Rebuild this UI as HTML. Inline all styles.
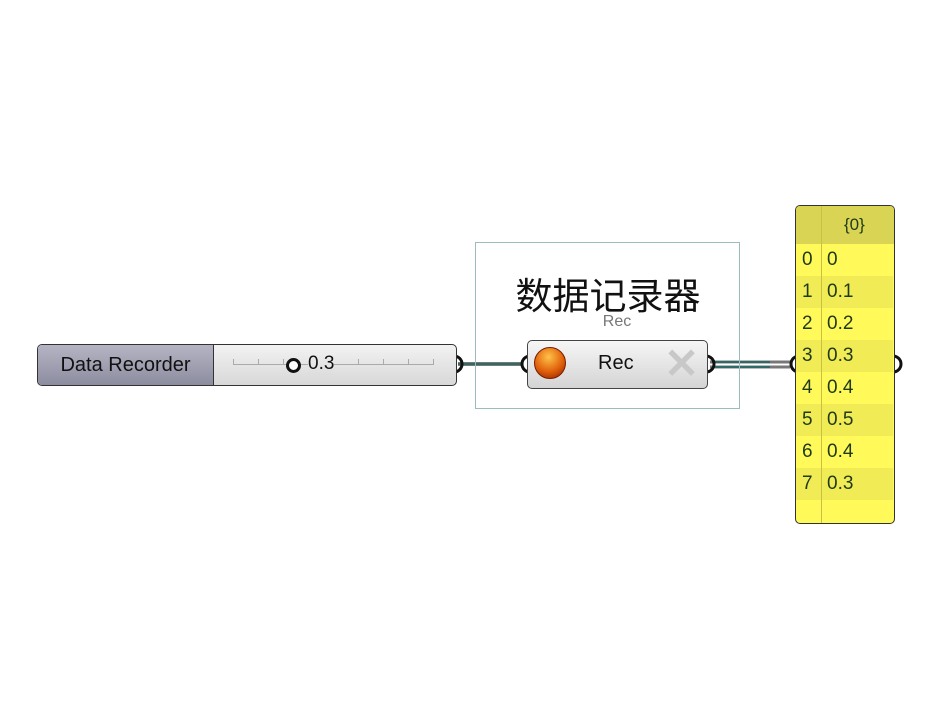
<!DOCTYPE html>
<html><head><meta charset="utf-8"><style>
body{margin:0;width:946px;height:709px;background:#fff;position:relative;overflow:hidden;font-family:"Liberation Sans","Noto Sans CJK SC",sans-serif}
.a{position:absolute}
.row{position:absolute;left:0;width:97px;height:32px;font-size:19px;color:#1f3a16;line-height:32px}
.row span{position:absolute}
.t{position:absolute;top:14px;width:1px;height:6px;background:#aaa}
</style></head><body>
<svg class="a" style="left:0;top:0" width="946" height="709">
<line x1="458" y1="364" x2="523" y2="364" stroke="#777" stroke-width="4"/>
<line x1="458" y1="364" x2="523" y2="364" stroke="#2f6a66" stroke-width="2"/>
<line x1="710" y1="362" x2="790" y2="362" stroke="#777" stroke-width="3"/>
<line x1="710" y1="367" x2="790" y2="367" stroke="#777" stroke-width="3"/>
<line x1="712" y1="362" x2="770" y2="362" stroke="#2f6a66" stroke-width="2"/>
<line x1="712" y1="367" x2="770" y2="367" stroke="#2f6a66" stroke-width="2"/>
<rect x="475.5" y="242.5" width="264" height="166" fill="none" stroke="#9dbcbc"/>
<path d="M454 356 a8 8 0 0 1 0 16" fill="none" stroke="#111" stroke-width="3"/>
<path d="M530 356 a8 8 0 0 0 0 16" fill="none" stroke="#111" stroke-width="3"/>
<path d="M706 356 a8 8 0 0 1 0 16" fill="none" stroke="#111" stroke-width="3"/>
<path d="M799 356 a8 8 0 0 0 0 16" fill="none" stroke="#111" stroke-width="3"/>
<path d="M893 356 a8 8 0 0 1 0 16" fill="none" stroke="#111" stroke-width="3"/>
</svg>
<div class="a" style="left:37px;top:344px;width:418px;height:40px;border:1.5px solid #333;border-radius:5px;overflow:hidden;background:linear-gradient(#f2f2f2,#d8d8d8)">
 <div class="a" style="left:0;top:0;width:175px;height:40px;background:linear-gradient(#b4b4c4,#8d8da0);border-right:1.5px solid #333;font-size:20px;line-height:40px;text-align:center;color:#111">Data Recorder</div>
 <div class="a" style="left:195px;top:19px;width:200px;height:1px;background:#aaa"></div>
 <div class="t" style="left:195px"></div><div class="t" style="left:220px"></div><div class="t" style="left:245px"></div><div class="t" style="left:320px"></div><div class="t" style="left:345px"></div><div class="t" style="left:370px"></div><div class="t" style="left:395px"></div>
 <div class="a" style="left:248px;top:13px;width:9px;height:9px;border:3px solid #111;border-radius:50%;background:#fff"></div>
 <div class="a" style="left:270px;top:8px;font-size:19px;color:#111;background:linear-gradient(#eee,#ddd)">0.3</div>
</div>
<div class="a" style="left:476px;top:273px;width:264px;text-align:center;font-size:37px;color:#111;line-height:48px">数据记录器</div>
<div class="a" style="left:476px;top:313px;width:282px;text-align:center;font-size:16px;color:#777">Rec</div>
<div class="a" style="left:527px;top:340px;width:179px;height:47px;border:1.5px solid #444;border-radius:5px;background:linear-gradient(#f6f6f6,#d4d4d4)">
 <div class="a" style="left:6px;top:6px;width:32px;height:32px;border-radius:50%;background:radial-gradient(circle at 45% 30%,#ffc24a,#e0600a 55%,#8a1a00);border:1.5px solid #7a1a00;box-sizing:border-box"></div>
 <div class="a" style="left:70px;top:11px;font-size:20px;color:#111">Rec</div>
 <div class="a" style="left:136px;top:0px;font-size:42px;color:#c8c8c8;line-height:46px;font-weight:bold">✕</div>
</div>
<div class="a" style="left:795px;top:205px;width:98px;height:317px;border:1.5px solid #333;border-radius:5px;overflow:hidden;background:#fff95a">
 <div class="a" style="left:0;top:0;width:98px;height:38px;background:#d9d454;font-size:17px;color:#1f3a16;line-height:38px"><span style="position:absolute;left:48px">{0}</span></div>
 <div class="row" style="top:38px;background:#fff95a"><span style="left:6px">0</span><span style="left:31px">0</span></div>
 <div class="row" style="top:70px;background:#f1ec55"><span style="left:6px">1</span><span style="left:31px">0.1</span></div>
 <div class="row" style="top:102px;background:#fff95a"><span style="left:6px">2</span><span style="left:31px">0.2</span></div>
 <div class="row" style="top:134px;background:#f1ec55"><span style="left:6px">3</span><span style="left:31px">0.3</span></div>
 <div class="row" style="top:166px;background:#fff95a"><span style="left:6px">4</span><span style="left:31px">0.4</span></div>
 <div class="row" style="top:198px;background:#f1ec55"><span style="left:6px">5</span><span style="left:31px">0.5</span></div>
 <div class="row" style="top:230px;background:#fff95a"><span style="left:6px">6</span><span style="left:31px">0.4</span></div>
 <div class="row" style="top:262px;background:#f1ec55"><span style="left:6px">7</span><span style="left:31px">0.3</span></div>
 <div class="a" style="left:25px;top:0;width:1px;height:317px;background:#c8c240"></div>
</div>
</body></html>
